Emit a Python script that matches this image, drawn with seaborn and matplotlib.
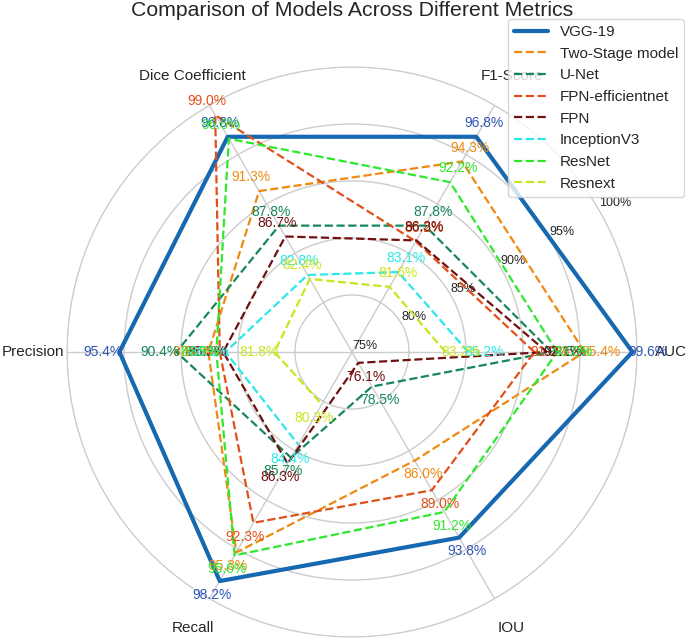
import numpy as np
import matplotlib
matplotlib.use('Agg')
import matplotlib.pyplot as plt
import seaborn as sns

# metrics in order around the circle (counter-clockwise from the right)
metrics = ['AUC', 'F1-Score', 'Dice Coefficient', 'Precision', 'Recall', 'IOU']
models = ['VGG-19', 'Two-Stage model', 'U-Net', 'FPN-efficientnet', 'FPN',
          'InceptionV3', 'ResNet', 'Resnext']

vgg19 = [99.6, 96.8, 96.8, 95.4, 98.2, 93.8]
two_stage = [95.4, 94.3, 91.3, 87.6, 95.3, 86.0]
unet = [92.5, 87.8, 87.8, 90.4, 85.7, 78.5]
fpn_eff = [91.0, 86.2, 99.0, 86.6, 92.3, 89.0]
fpn = [92.1, 86.3, 86.7, 86.3, 86.3, 76.1]
inception = [85.2, 83.1, 82.8, 86.1, 84.4, 73.5]
resnet = [93.0, 92.2, 96.6, 86.9, 95.6, 91.2]
resnext = [83.2, 81.6, 82.4, 81.8, 80.3, 72.0]

scores = [vgg19, two_stage, unet, fpn_eff, fpn, inception, resnet, resnext]
colors = ['#1668b0', '#ee8a12', '#16875a', '#e0501a', '#701010',
          '#2ce8e8', '#2ee82e', '#cce41c']
text_colors = ['#2f55b5'] + colors[1:]

r_ticks = [75, 80, 85, 90, 95, 100]

sns.set_style('whitegrid')
plt.rcParams['font.family'] = ['Liberation Sans', 'DejaVu Sans']

angles = np.linspace(0, 2 * np.pi, len(metrics), endpoint=False)
angles_closed = np.concatenate([angles, angles[:1]])

fig = plt.figure(figsize=(6.85, 6.38), dpi=100)
ax = fig.add_axes([67 / 685, 1 / 638, 570 / 685, 570 / 638], projection='polar')

for i, (name, vals) in enumerate(zip(models, scores)):
    vals_closed = vals + vals[:1]
    if i == 0:
        ls, lw = '-', 3.0
    else:
        ls, lw = '--', 1.6
    sns.lineplot(x=angles_closed, y=vals_closed, ax=ax, sort=False, estimator=None,
                 color=colors[i], linestyle=ls, linewidth=lw, label=name)
    for a, v in zip(angles, vals):
        if v >= r_ticks[0]:
            ax.text(a, v + 1.4, f'{v:.1f}%', color=text_colors[i], fontsize=10,
                    ha='center', va='center')

ax.set_ylim(75, 100)
ax.set_yticks(r_ticks)
ax.set_yticklabels([f'{t}%' for t in r_ticks], fontsize=9)
ax.set_rlabel_position(30)
ax.set_xticks(angles)
ax.set_xticklabels(metrics, fontsize=11)
ax.tick_params(axis='x', pad=14)
ax.set_xlabel('')
ax.set_ylabel('')
ax.grid(color='#cccccc', linewidth=1)
ax.spines['polar'].set_color('#cccccc')

ax.set_title('Comparison of Models Across Different Metrics', fontsize=15.3, y=1.075)

ax.legend(loc='upper left', bbox_to_anchor=(508 / 685, 1 - 19 / 638),
          bbox_transform=fig.transFigure, borderaxespad=0, fontsize=11,
          handlelength=2.2, labelspacing=0.5, frameon=True)

plt.savefig('out.png', dpi=100)
